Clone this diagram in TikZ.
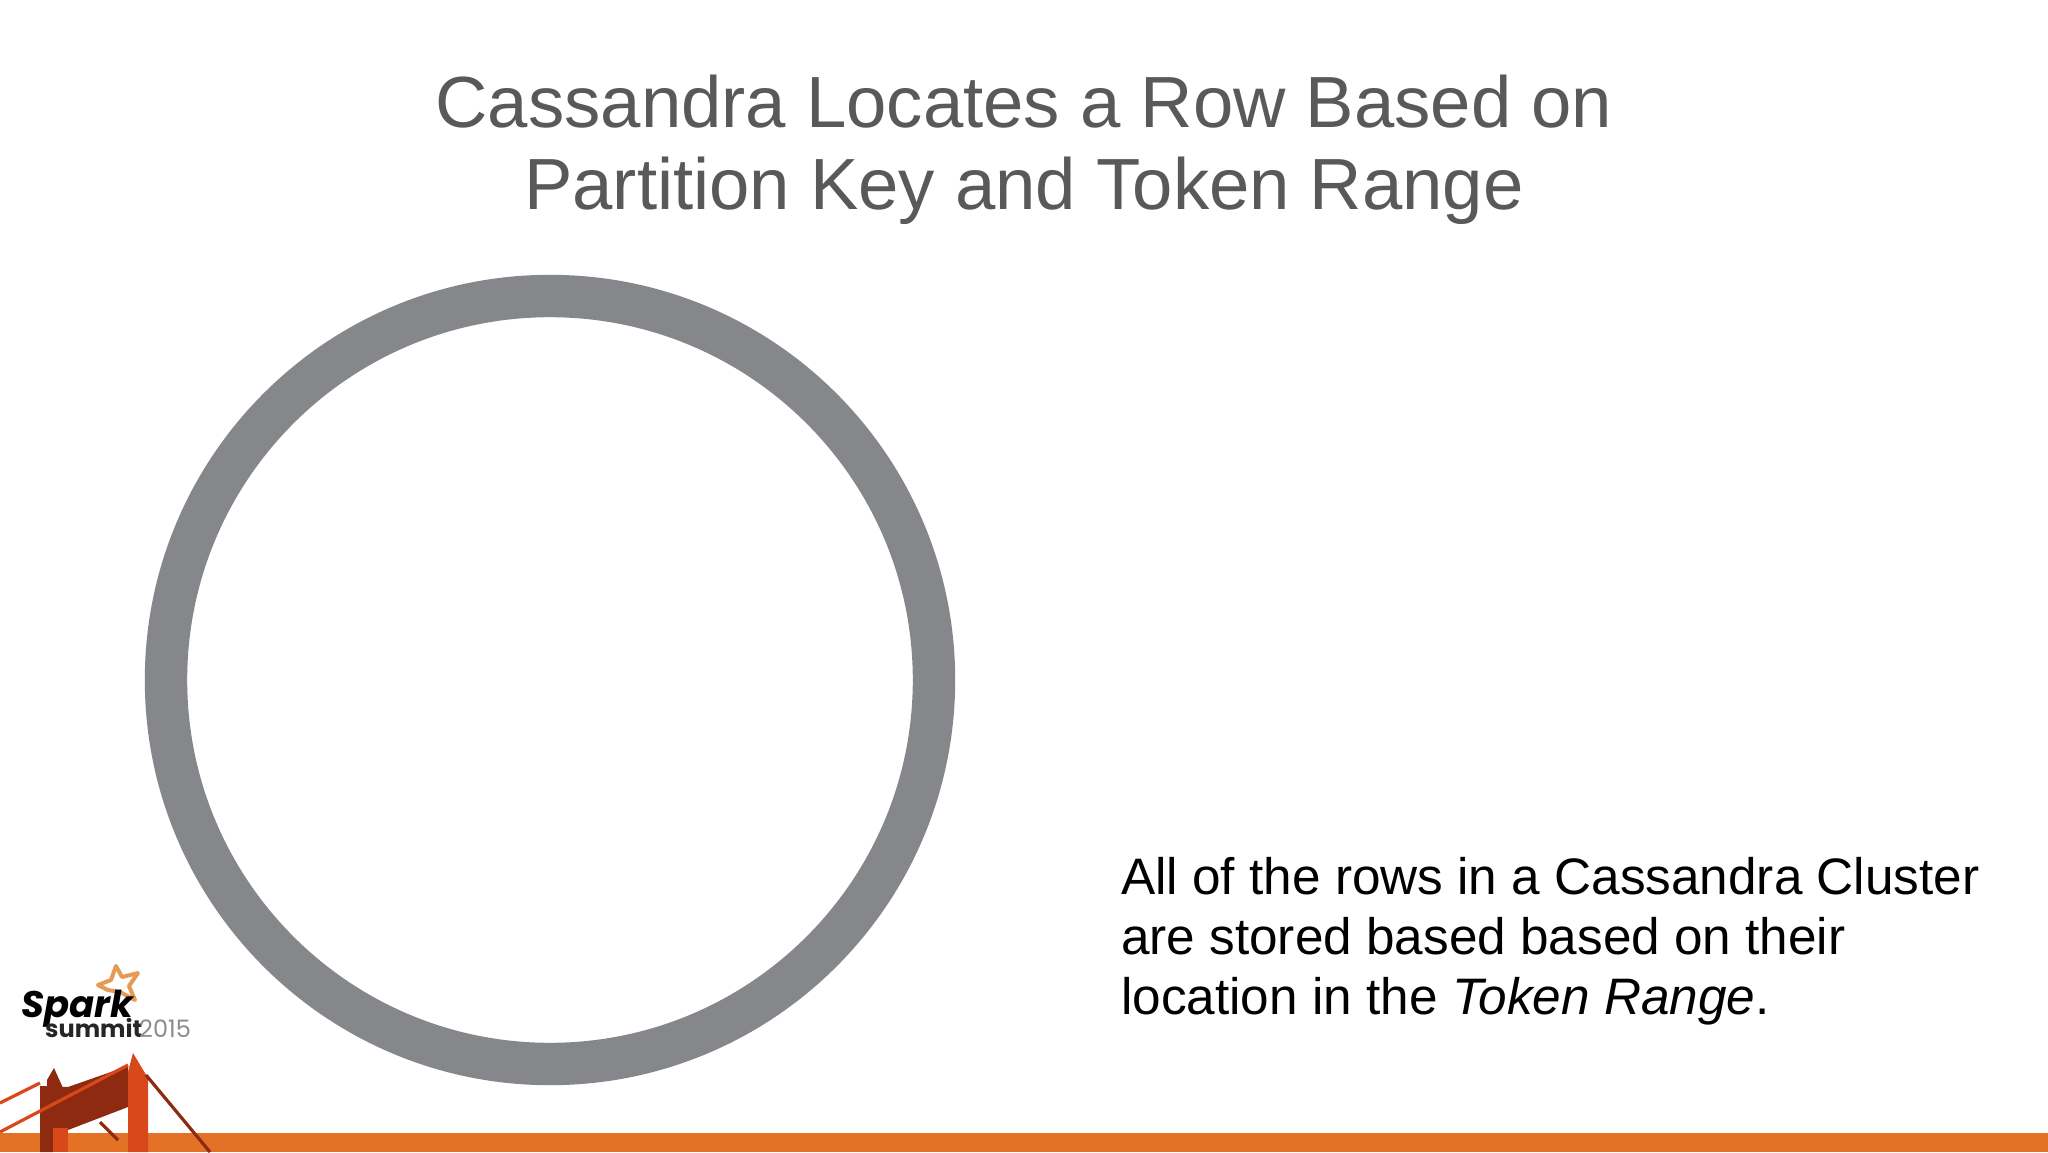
\documentclass[tikz,border=0pt]{standalone}
\usepackage{fontspec}
\setmainfont{Liberation Sans}
\newfontfamily\logofont{Poppins}
\definecolor{titlegray}{HTML}{58595B}
\definecolor{ringgray}{HTML}{85878B}
\definecolor{barorange}{HTML}{E37227}
\definecolor{bridgered}{HTML}{D9481A}
\definecolor{bridgedark}{HTML}{8E2A10}
\definecolor{staror}{HTML}{E59A55}
\tikzset{
  titletext/.style={text=titlegray,font=\fontsize{72.5}{82}\selectfont,align=center,inner sep=0pt},
  bodytext/.style={text=black,font=\fontsize{51.3}{60}\selectfont,align=left,inner sep=0pt},
  ring/.style={draw=ringgray,line width=42.4pt},
  cable/.style={draw=bridgered,line width=3.2pt},
}
\begin{document}
\begin{tikzpicture}[x=1pt,y=-1pt]
\useasboundingbox (0,0) rectangle (2048,1152);
\fill[white] (0,0) rectangle (2048,1152);
% bar
\fill[barorange] (0,1133) rectangle (2048,1152);
% title
\node[titletext,anchor=base] (title) at (1024,209) {Cassandra Locates a Row Based on\\Partition Key and Token Range};
% ring
\draw[ring] (550,680) circle (384pt);
% body
\node[bodytext,anchor=base west] (body) at (1121,1014) {All of the rows in a Cassandra Cluster\\are stored based based on their\\location in the \textit{Token Range}.};
% logo star
\draw[staror,line width=4pt,line join=round,fill=white]
  (116,966) -- (122,977) -- (138,973) -- (129,986) -- (135,1000) -- (120,992) -- (108,990) -- (98,985) -- (111,980) -- cycle;
\node[inner sep=0pt,anchor=base west,text=black,font=\logofont\fontsize{37}{37}\selectfont\bfseries] (spark) at (21,1017) {\textit{Spark}};
\node[inner sep=0pt,anchor=base west,text=black!85,font=\logofont\fontsize{24}{24}\selectfont\bfseries] (summit) at (45,1037) {summit};
\node[inner sep=0pt,anchor=base west,text=gray!90,font=\logofont\fontsize{24}{24}\selectfont] (year) at (139,1037) {2015};
% bridge
\fill[bridgedark] (40,1086) -- (68,1087) -- (128,1066) -- (128,1107) -- (68,1130) -- (53,1130) -- (53,1152) -- (40,1152) -- cycle;
\fill[bridgered] (128,1072) -- (133,1053) -- (148,1078) -- (148,1152) -- (128,1152) -- cycle;
\fill[bridgedark] (47,1080) -- (54,1068) -- (63,1088) -- (47,1088) -- cycle;
\fill[bridgered] (53,1128) -- (68,1128) -- (68,1152) -- (53,1152) -- cycle;
\draw[cable] (0,1103) -- (40,1083);
\draw[cable] (0,1132) -- (128,1065);
\draw[cable,draw=bridgedark] (146,1075) -- (210,1152);
\draw[cable,draw=bridgedark] (100,1122) -- (118,1140);
\end{tikzpicture}
\end{document}
